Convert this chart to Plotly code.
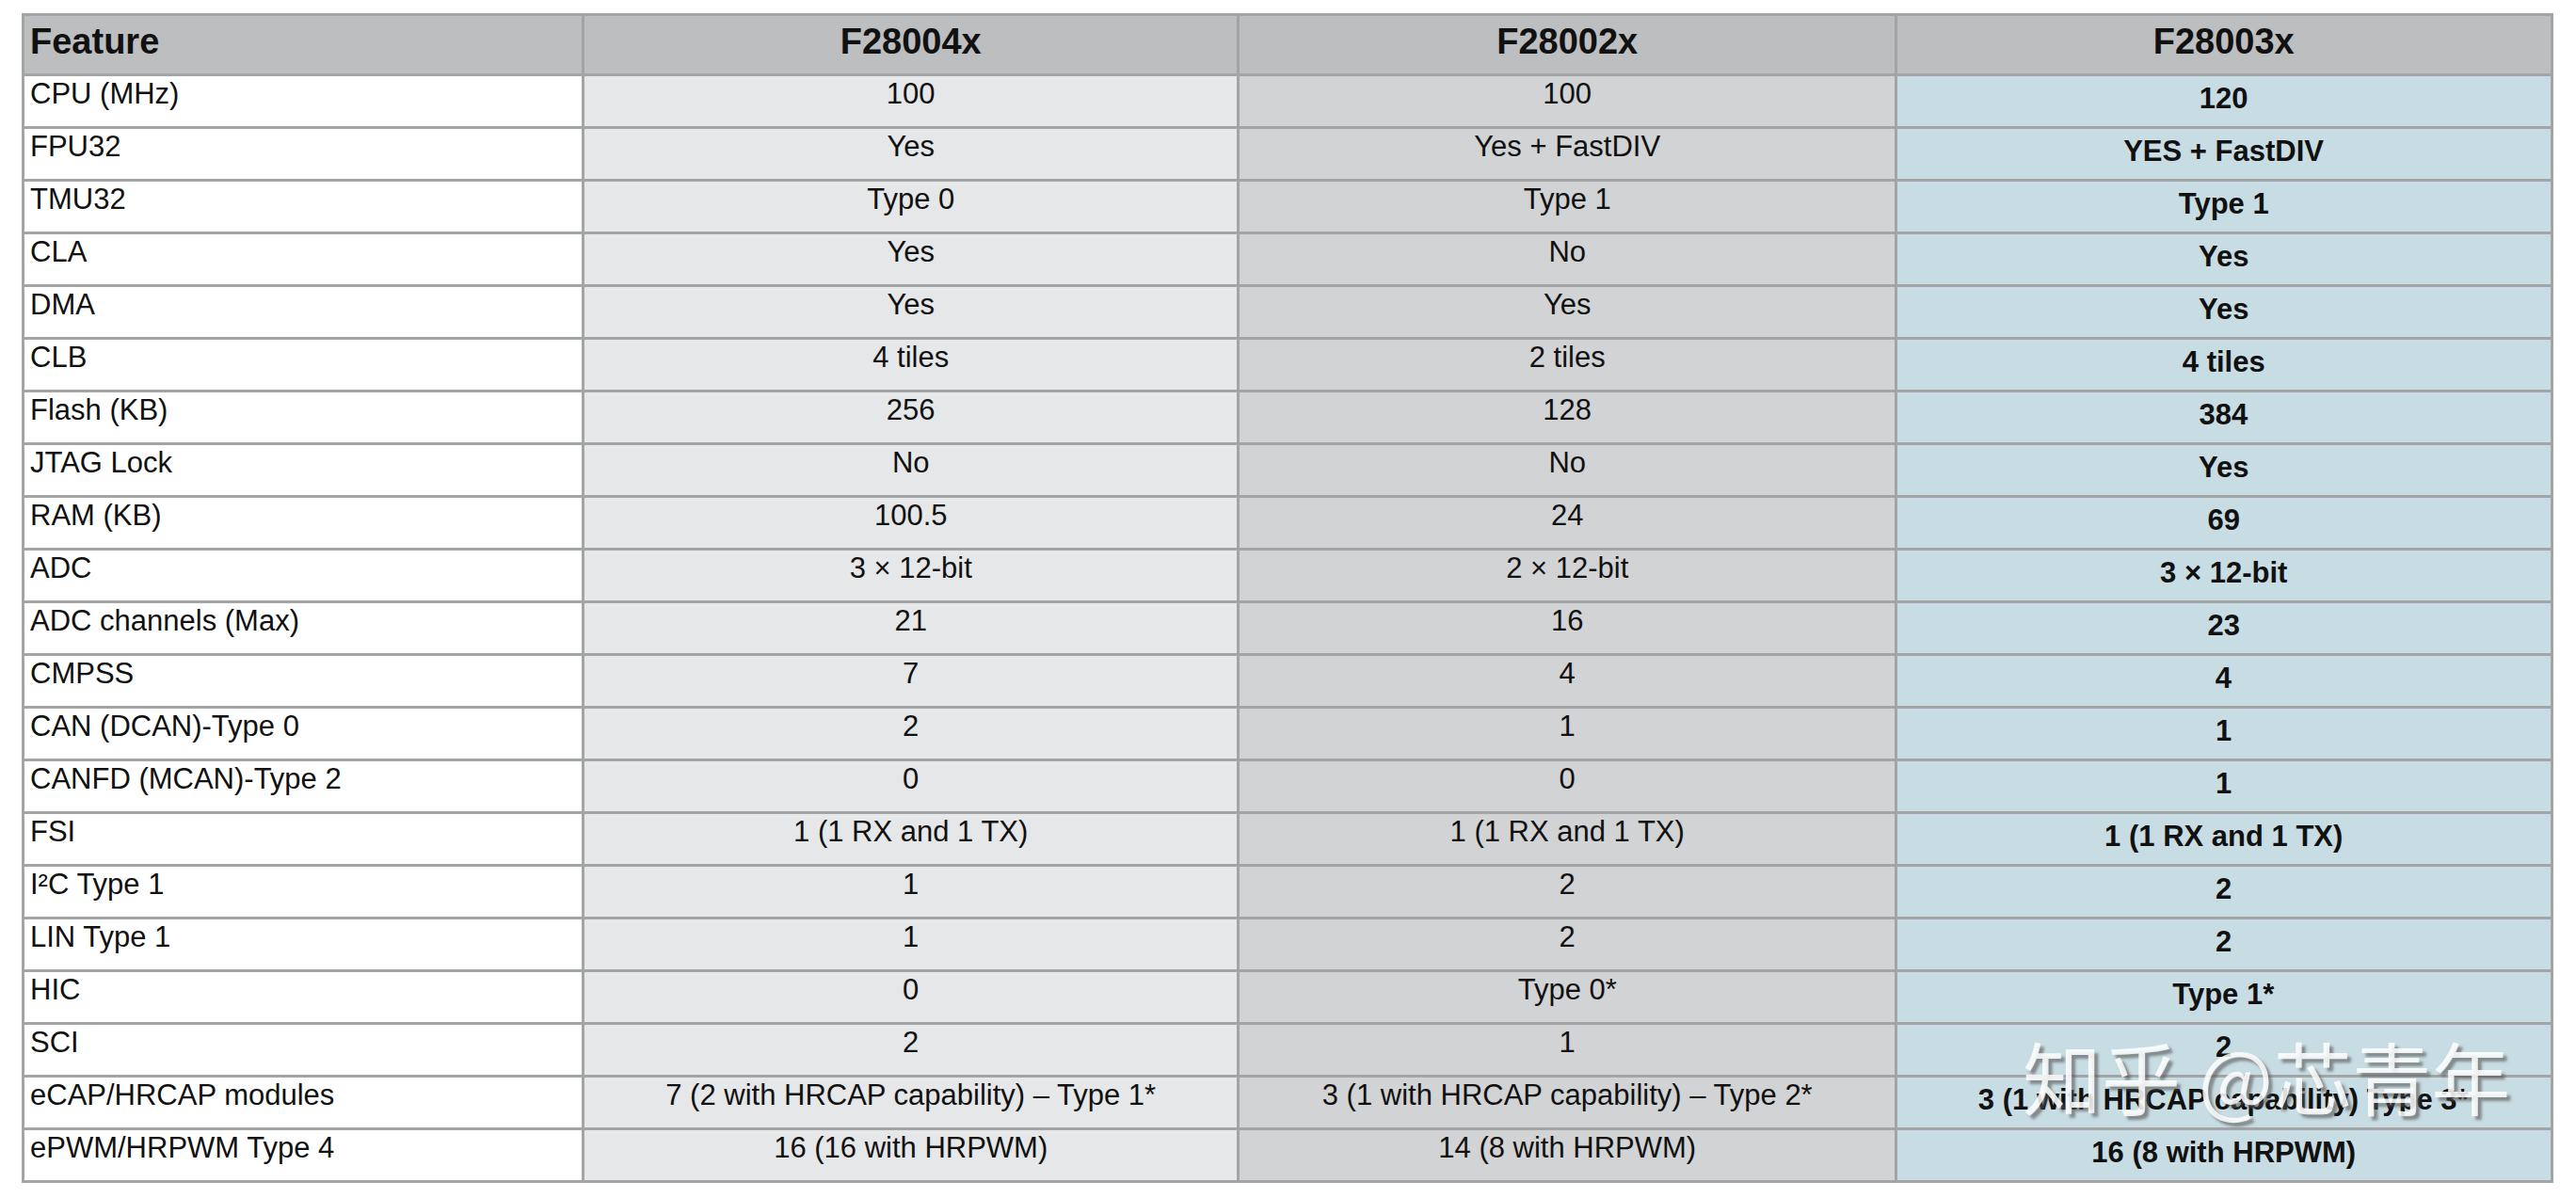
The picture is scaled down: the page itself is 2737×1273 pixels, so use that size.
import plotly.graph_objects as go

# Table contents
header = ["Feature", "F28004x", "F28002x", "F28003x"]
features = ["CPU (MHz)", "FPU32", "TMU32", "CLA", "DMA", "CLB", "Flash (KB)", "JTAG Lock",
            "RAM (KB)", "ADC", "ADC channels (Max)", "CMPSS", "CAN (DCAN)-Type 0",
            "CANFD (MCAN)-Type 2", "FSI", "I²C Type 1", "LIN Type 1", "HIC", "SCI",
            "eCAP/HRCAP modules", "ePWM/HRPWM Type 4"]
f28004x = ["100", "Yes", "Type 0", "Yes", "Yes", "4 tiles", "256", "No", "100.5", "3 × 12-bit",
           "21", "7", "2", "0", "1 (1 RX and 1 TX)", "1", "1", "0", "2",
           "7 (2 with HRCAP capability) – Type 1*", "16 (16 with HRPWM)"]
f28002x = ["100", "Yes + FastDIV", "Type 1", "No", "Yes", "2 tiles", "128", "No", "24", "2 × 12-bit",
           "16", "4", "1", "0", "1 (1 RX and 1 TX)", "2", "2", "Type 0*", "1",
           "3 (1 with HRCAP capability) – Type 2*", "14 (8 with HRPWM)"]
f28003x = ["120", "YES + FastDIV", "Type 1", "Yes", "Yes", "4 tiles", "384", "Yes", "69", "3 × 12-bit",
           "23", "4", "1", "1", "1 (1 RX and 1 TX)", "2", "2", "Type 1*", "2",
           "3 (1 with HRCAP capability) Type 3*", "16 (8 with HRPWM)"]

W, H = 2737, 1273
fnt = "Liberation Sans, Arial, sans-serif"
line = "#a3a4a5"

fig = go.Figure(go.Table(
    domain=dict(x=[16 / W, 2703 / W], y=[1 - 1252 / H, 1 - 7 / H]),
    columnwidth=[595, 696, 698, 696],
    header=dict(
        values=["<b>%s</b>" % h for h in header],
        align=["left", "center", "center", "center"],
        fill_color="#bdbebf",
        line=dict(color=line, width=3),
        font=dict(family=fnt, size=38, color="#111111"),
        height=64,
    ),
    cells=dict(
        values=[features, f28004x, f28002x, ["<b>%s</b>" % v for v in f28003x]],
        align=["left", "center", "center", "center"],
        fill_color=[["#ffffff"] * 21, ["#e6e7e8"] * 21, ["#d2d3d4"] * 21, ["#c8dde3"] * 21],
        line=dict(color=line, width=3),
        font=dict(family=fnt, size=31, color="#111111"),
        height=56,
    ),
))

# watermark
fig.add_annotation(x=2400 / W, y=1 - 1134 / H, xref="paper", yref="paper",
                   xanchor="center", yanchor="middle",
                   text="知乎 @芯青年", showarrow=False,
                   font=dict(family="Noto Sans CJK SC", size=84, color="rgba(255,255,255,0.85)",
                             shadow="4px 4px 3px rgba(80,80,80,0.7)"))

fig.update_layout(width=W, height=H, margin=dict(l=0, r=0, t=0, b=0),
                  paper_bgcolor="white")
fig.write_html("out.html")
